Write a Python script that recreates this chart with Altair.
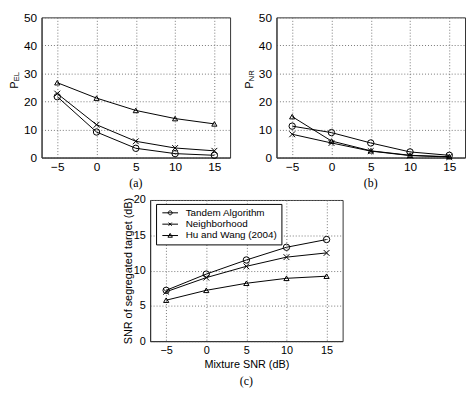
import altair as alt
import pandas as pd

snr = [-5, 0, 5, 10, 15]
series_names = ["Tandem Algorithm", "Neighborhood", "Hu and Wang (2004)"]

a_tandem = [21.7, 9.1, 3.3, 1.4, 0.8]
a_neigh = [22.8, 11.7, 5.8, 3.4, 2.4]
a_hu = [26.7, 21.2, 16.8, 13.9, 12.0]

b_tandem = [11.2, 8.9, 5.2, 2.0, 0.8]
b_neigh = [8.3, 5.2, 2.3, 0.7, 0.2]
b_hu = [14.6, 5.9, 2.4, 0.8, 0.3]

c_tandem = [7.2, 9.5, 11.5, 13.3, 14.4]
c_neigh = [7.0, 9.0, 10.6, 11.9, 12.5]
c_hu = [5.8, 7.2, 8.2, 8.9, 9.2]

a_ylabel = ["P", "EL"]
b_ylabel = ["P", "NR"]
c_ytitle = "SNR of segregated target (dB)"
c_xtitle = "Mixture SNR (dB)"
captions = ["(a)", "(b)", "(c)"]

SANS = "Liberation Sans"
SERIF = "Liberation Serif"

marker_shapes = ["circle", "M-1,-1L1,1M-1,1L1,-1", "triangle-up"]
marker_sizes = [42, 28, 58]
legend_shapes = [
    "M-1,0L5,0M1.25,0A0.75,0.75 0 1 1 2.75,0A0.75,0.75 0 1 1 1.25,0",
    "M-1,0L5,0M1.4,-0.6L2.6,0.6M1.4,0.6L2.6,-0.6",
    "M-1,0L5,0M2,-0.8L2.85,0.65L1.15,0.65Z",
]

GRID = dict(grid=True, gridDash=[1, 2], gridColor="#777", gridWidth=1, tickSize=0)


def long_df(t, n, h):
    rows = []
    for name, vals in zip(series_names, [t, n, h]):
        for x, v in zip(snr, vals):
            rows.append({"snr": x, "value": v, "series": name})
    return pd.DataFrame(rows)


def panel(df, ymax, ystep, w, h, caption, tick_fs, ylabel=None, ytitle=None,
          xtitle=None, legend=False):
    xaxis_kw = dict(values=snr, labelFontSize=tick_fs, labelPadding=4, labelFlush=False, **GRID)
    if xtitle:
        xaxis_kw.update(title=xtitle, titleFontSize=11, titlePadding=3)
    else:
        xaxis_kw.update(title=None)
    yaxis_kw = dict(values=list(range(0, ymax + 1, ystep)), labelFontSize=tick_fs,
                    labelPadding=5, labelFlush=False, **GRID)
    if ytitle:
        yaxis_kw.update(title=ytitle, titleFontSize=11, titlePadding=0)
    else:
        yaxis_kw.update(title=None)

    base = alt.Chart(df).encode(
        x=alt.X("snr:Q", scale=alt.Scale(domain=[-7, 17], nice=False, zero=False),
                axis=alt.Axis(**xaxis_kw)),
        y=alt.Y("value:Q", scale=alt.Scale(domain=[0, ymax], nice=False),
                axis=alt.Axis(**yaxis_kw)),
    )
    line = base.mark_line(color="black", strokeWidth=1).encode(detail="series:N")
    pts = base.mark_point(filled=False, color="black", opacity=1, strokeWidth=1).encode(
        shape=alt.Shape("series:N", scale=alt.Scale(domain=series_names, range=marker_shapes),
                        legend=None),
        size=alt.Size("series:N", scale=alt.Scale(domain=series_names, range=marker_sizes),
                      legend=None),
    )
    layers = [line, pts]
    if ylabel:
        tdf = pd.DataFrame({"main": [ylabel[0]], "sub": [ylabel[1]]})
        ymid = h * 0.457
        main = alt.Chart(tdf).mark_text(angle=270, align="right", baseline="alphabetic",
                                        fontSize=11, font=SANS, color="black").encode(
            text="main:N", x=alt.value(-24), y=alt.value(ymid))
        sub = alt.Chart(tdf).mark_text(angle=270, align="left", baseline="alphabetic",
                                       fontSize=8, font=SANS, color="black").encode(
            text="sub:N", x=alt.value(-22.5), y=alt.value(ymid))
        layers += [main, sub]
    if legend:
        leg = base.mark_point(filled=False, color="black", opacity=1, strokeWidth=1).encode(
            shape=alt.Shape("series:N",
                            scale=alt.Scale(domain=series_names, range=legend_shapes),
                            legend=alt.Legend(orient="none", legendX=6, legendY=4, title=None,
                                              labelFontSize=10, labelFont=SANS,
                                              labelColor="black",
                                              symbolSize=28, symbolStrokeWidth=1,
                                              symbolStrokeColor="black",
                                              labelOffset=16, padding=4, rowPadding=1.5,
                                              strokeColor="black", fillColor="white")),
        ).transform_filter("datum.value < -1000")
        layers.append(leg)
    ch = alt.layer(*layers).properties(
        width=w, height=h,
        title=alt.TitleParams(text=caption, orient="bottom", font=SERIF, fontSize=12,
                              fontWeight="normal", offset=6, color="black"),
    )
    if legend:
        ch = ch.resolve_scale(shape="independent")
    return ch


pa = panel(long_df(a_tandem, a_neigh, a_hu), 50, 10, 191, 142, captions[0], 12, ylabel=a_ylabel)
pb = panel(long_df(b_tandem, b_neigh, b_hu), 50, 10, 191, 142, captions[1], 12, ylabel=b_ylabel)
pc = panel(long_df(c_tandem, c_neigh, c_hu), 20, 5, 195, 143, captions[2], 11,
           ytitle=c_ytitle, xtitle=c_xtitle, legend=True)

spacer = alt.Chart(pd.DataFrame({"v": [0]})).mark_point(opacity=0).encode(
    x=alt.value(0), y=alt.value(0)).properties(
    width=81, height=10, view=alt.ViewBackground(strokeOpacity=0))

top = alt.hconcat(pa, pb, spacing=12)
bottom = alt.hconcat(spacer, pc, spacing=0)
chart = alt.vconcat(top, bottom, spacing=3).properties(padding=0).configure_view(
    stroke="#333", strokeWidth=1
).configure_axis(
    domainColor="#333", tickColor="#333",
    labelFont=SANS, titleFont=SANS, labelColor="black", titleColor="black",
    titleFontWeight="normal",
)

chart.save("out.html", embed_options={"renderer": "svg", "actions": False})
